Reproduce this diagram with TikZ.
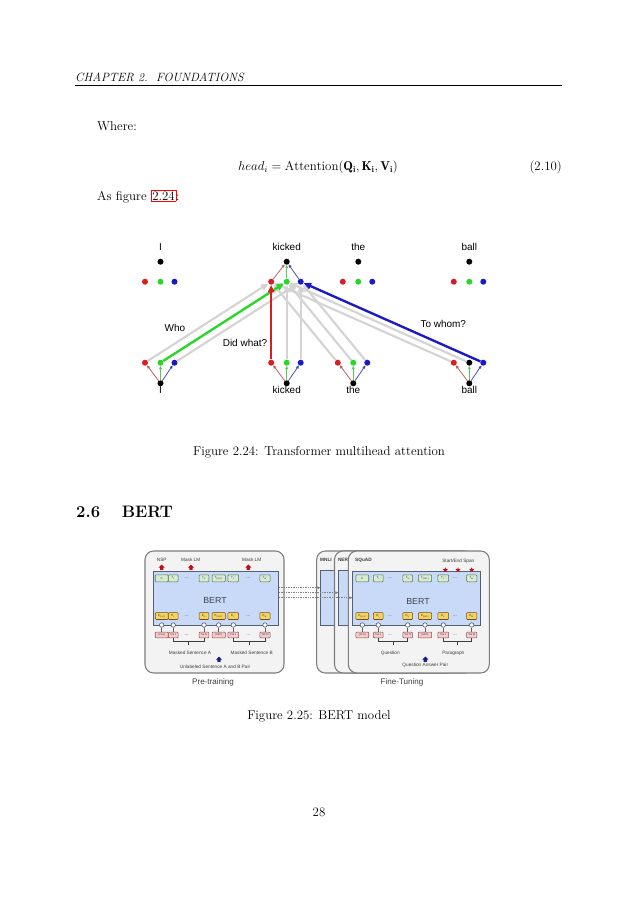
\documentclass[tikz,border=0pt]{standalone}
\usepackage{fontspec}
\newfontfamily\arialf{Liberation Sans}
\usetikzlibrary{arrows.meta,shapes.geometric,calc}
\definecolor{ared}{RGB}{215,30,35}
\definecolor{agreen}{RGB}{40,215,40}
\definecolor{ablue}{RGB}{25,25,200}
\definecolor{agray}{RGB}{212,212,212}
\definecolor{sred}{RGB}{190,90,90}
\definecolor{sgreen}{RGB}{90,200,90}
\definecolor{sblue}{RGB}{70,70,170}
\definecolor{bblue}{RGB}{201,218,248}
\definecolor{bedge}{RGB}{85,95,115}
\definecolor{bgreen}{RGB}{217,234,211}
\definecolor{byellow}{RGB}{244,212,92}
\definecolor{bpink}{RGB}{244,204,204}
\definecolor{bpanel}{RGB}{243,243,243}
\definecolor{bframe}{RGB}{125,125,125}
\definecolor{btext}{RGB}{60,60,60}
\definecolor{bred}{RGB}{200,10,20}
\definecolor{bnavy}{RGB}{20,30,140}
\setlength{\fboxsep}{0.8pt}
\setlength{\fboxrule}{0.6pt}
\newcommand\sbx[1]{\textsubscript{#1}}
\tikzset{
  txt/.style={inner sep=0, font=\fontsize{12}{14}\selectfont},
  dotn/.style={circle, inner sep=0, minimum size=5.6pt},
  wlab/.style={inner sep=0, font=\arialf\fontsize{9.3}{10}\selectfont},
  sarr/.style={line width=0.7pt, -{Triangle[length=3pt,width=2.6pt]}},
  garr/.style={agray, line width=2pt, -{Triangle[length=7pt,width=6pt]}},
  harr/.style={line width=2.2pt, -{Triangle[length=7pt,width=6pt]}},
  panel/.style={draw=bframe, fill=bpanel, line width=1pt, rounded corners=8pt},
  bluebox/.style={draw=bedge, fill=bblue, line width=0.8pt},
  gbox/.style={draw=green!25!black!70, fill=bgreen, rounded corners=0.8pt, line width=0.5pt, inner sep=0, minimum height=6.5pt, font=\arialf\fontsize{2.8}{3}\selectfont, text=btext},
  ybox/.style={draw=brown!60!black, fill=byellow, rounded corners=0.8pt, line width=0.5pt, inner sep=0, minimum height=6.5pt, font=\arialf\fontsize{2.8}{3}\selectfont, text=btext},
  pbox/.style={draw=red!40!black!70, fill=bpink, rounded corners=0.8pt, line width=0.5pt, inner sep=0, minimum height=5.5pt, font=\arialf\fontsize{2.4}{3}\selectfont, text=btext},
  cdot/.style={circle, draw=bedge, fill=white, line width=0.6pt, inner sep=0, minimum size=4.2pt},
  thinl/.style={draw=bedge, line width=0.4pt},
  brk/.style={draw=btext, line width=0.5pt},
  blab/.style={inner sep=0, font=\arialf\fontsize{4.4}{5}\selectfont, text=btext},
  btitle/.style={inner sep=0, font=\arialf\fontsize{8.2}{9}\selectfont, text=bedge!70!black},
  plab/.style={inner sep=0, font=\arialf\fontsize{7.5}{8}\selectfont, text=btext},
  rstar/.style={star, star points=5, star point ratio=2.2, fill=bred, inner sep=0, minimum size=5pt},
  dotarr/.style={gray, densely dotted, line width=0.6pt, -{Triangle[length=3pt,width=2.5pt]}},
  uparr/.pic={\path[pic actions] (-1.6,2.4) -- (-1.6,0) -- (-3,0) -- (0,-3) -- (3,0) -- (1.6,0) -- (1.6,2.4) -- cycle;}
}
\newcommand\bertrows[9]{%
  \foreach \i/\x/\w/\t/\e/\k in {1/#2/12/{C}/{E\sbx{[CLS]}}/{[CLS]}, 2/#3/9/{T\sbx{1}}/{E\sbx{1}}/{Tok 1}, 3/#4/9/{T\sbx{N}}/{E\sbx{N}}/{Tok N}, 4/#5/12.3/{T\sbx{[SEP]}}/{E\sbx{[SEP]}}/{[SEP]}, 5/#6/10/{T\sbx{1}'}/{E\sbx{1}'}/{Tok 1}, 6/#7/9.5/{T\sbx{M}'}/{E\sbx{M}'}/{Tok M}}{
    \node[gbox, minimum width=\w pt] (#1t\i) at (\x,27.3) {\t};
    \node[ybox, minimum width=\w pt] (#1e\i) at (\x,65) {\e};
    \node[cdot] (#1c\i) at (\x,74) {};
    \node[pbox, minimum width=\w pt] (#1k\i) at (\x,84) {\k};
    \draw[thinl] (#1c\i) -- (#1k\i);
  }
  \foreach \j/\x in {a/#8, b/#9}{
    \node[blab] (#1dt\j) at (\x,27.3) {...};
    \node[blab] (#1de\j) at (\x,65) {...};
    \node[blab] (#1dk\j) at (\x,84) {...};
  }
  \draw[brk] (#1k2.south) -- ++(0,3.5) -| (#1k3.south);
  \draw[brk] ($(#1k2.south)!0.5!(#1k3.south)+(0,3.5)$) -- ++(0,3.5);
  \draw[brk] (#1k5.south) -- ++(0,3.5) -| (#1k6.south);
  \draw[brk] ($(#1k5.south)!0.5!(#1k6.south)+(0,3.5)$) -- ++(0,3.5);
}
\begin{document}
\begin{tikzpicture}[x=0.9325pt,y=-0.9325pt]
\useasboundingbox (0,0) rectangle (638,903);
\fill[white] (0,0) rectangle (638,903);

% ---- page text ----
\node[txt, anchor=base west, font=\fontsize{11.2}{13}\selectfont\itshape] (hdr) at (75,81.7) {CHAPTER 2.\ \ FOUNDATIONS};
\coordinate (rulel) at (75,85.3);
\coordinate (ruler) at (562,85.3);
\draw[line width=0.45pt] (rulel) -- (ruler);
\node[txt, anchor=base west] (where) at (97,130.8) {Where:};
\node[txt, anchor=base] (eq) at (318,170.7) {$head_i = \mathrm{Attention}(\mathbf{Q_i}, \mathbf{K_i}, \mathbf{V_i})$};
\node[txt, anchor=base east] (eqno) at (562,170.7) {(2.10)};
\node[txt, anchor=base west] (asfig) at (97,200) {As figure \fcolorbox{red}{white}{2.24}:};

% ---- attention figure ----
\foreach \n/\x/\w in {a/160.5/I, b/286.7/kicked, c/358.3/the, d/469.3/ball}{
  \node[wlab] (tw\n) at (\x,247) {\w};
  \node[dotn, fill=black] (tk\n) at (\x,261.7) {};
  \node[dotn, fill=ared] (tr\n) at (\x-15.5,281.7) {};
  \node[dotn, fill=agreen] (tg\n) at (\x,281.7) {};
  \node[dotn, fill=ablue] (tb\n) at (\x+14,281.7) {};
}
\foreach \n/\x/\w/\gc in {a/160.5/I/agreen, b/286.7/kicked/agreen, c/353.3/the/agreen, d/469.3/ball/black}{
  \node[wlab] (bw\n) at (\x,390.3) {\w};
  \node[dotn, fill=black] (bk\n) at (\x,383.3) {};
  \node[dotn, fill=ared] (br\n) at (\x-15.5,362.7) {};
  \node[dotn, fill=\gc] (bg\n) at (\x,362.7) {};
  \node[dotn, fill=ablue] (bb\n) at (\x+14,362.7) {};
  \draw[sarr, sred] (bk\n) -- (br\n);
  \draw[sarr, sgreen] (bk\n) -- (bg\n);
  \draw[sarr, sblue] (bk\n) -- (bb\n);
}
\draw[sarr, sred] (trb) -- (tkb);
\draw[sarr, sgreen] (tgb) -- (tkb);
\draw[sarr, sblue] (tbb) -- (tkb);
\foreach \s/\t in {bra/trb, bba/tbb, bgb/tgb, bbb/tbb, brc/trb, bgc/tgb, bbc/tbb, brd/trb, bgd/tgb}
  \draw[garr] (\s) -- (\t);
\draw[harr, agreen] (bga) -- (tgb);
\draw[harr, ared] (brb) -- (trb);
\draw[harr, ablue] (bbd) -- (tbb);
\node[wlab] (who) at (175,327.7) {Who};
\node[wlab] (didwhat) at (245,343.3) {Did what?};
\node[wlab] (towhom) at (443.3,324) {To whom?};

\node[txt, anchor=base] (cap1) at (319,455.7) {Figure 2.24: Transformer multihead attention};

% ---- section ----
\node[txt, anchor=base west, font=\fontsize{15.5}{18}\selectfont\bfseries] (secnum) at (76,517) {2.6};
\node[txt, anchor=base west, font=\fontsize{15.5}{18}\selectfont\bfseries] (sectitle) at (121.7,517) {BERT};

% ---- BERT figure: pre-training ----
\begin{scope}[shift={(145,551)}]
  \draw[panel] (0,0) rectangle (139,122);
  \draw[bluebox] (8,20) rectangle (133,74);
  \node[btitle] (ptitle) at (70,49) {BERT};
  \bertrows{p}{16.7}{28.3}{59}{73.7}{88.3}{120}{41.7}{103.3}
  \node[blab] (pnsp) at (16.7,9) {NSP};
  \node[blab] (pmlm1) at (45.7,9) {Mask LM};
  \node[blab] (pmlm2) at (106.7,9) {Mask LM};
  \pic[fill=bred] at (16.7,16.5) {uparr};
  \pic[fill=bred] at (46,16.5) {uparr};
  \pic[fill=bred] at (103.3,16.5) {uparr};
  \node[blab] (psa) at (45,102) {Masked Sentence A};
  \node[blab] (psb) at (106.7,102) {Masked Sentence B};
  \pic[fill=bnavy] at (74,108.5) {uparr};
  \node[blab] (ppair) at (70,115.7) {Unlabeled Sentence A and B Pair};
\end{scope}
\node[plab] (ptr) at (213,682) {Pre-training};

% ---- BERT figure: fine-tuning ----
\begin{scope}[shift={(316.7,551)}]
  \draw[panel] (0,0) rectangle (139,122);
  \draw[bluebox] (4,19) rectangle (131,74);
  \node[blab, anchor=west, font=\arialf\bfseries\fontsize{4.4}{5}\selectfont] (mnli) at (3.3,9) {MNLI};
\end{scope}
\begin{scope}[shift={(334.5,551)}]
  \draw[panel] (0,0) rectangle (139,122);
  \draw[bluebox] (4,19) rectangle (131,74);
  \node[blab, anchor=west, font=\arialf\bfseries\fontsize{4.4}{5}\selectfont] (ner) at (3.3,9) {NER};
\end{scope}
\begin{scope}[shift={(348.3,551)}]
  \draw[panel] (0,0) rectangle (141,122);
  \draw[bluebox] (4.4,20) rectangle (131.7,74);
  \node[btitle] (ftitle) at (69.7,50.7) {BERT};
  \bertrows{f}{14}{30}{59.4}{76.7}{95}{123.4}{41.7}{106.7}
  \node[blab, anchor=west, font=\arialf\bfseries\fontsize{4.4}{5}\selectfont] (squad) at (6.7,9) {SQuAD};
  \node[blab] (fspan) at (110,10.7) {Start/End Span};
  \node[rstar] (fs1) at (97,19) {};
  \node[rstar] (fs2) at (109.7,19) {};
  \node[rstar] (fs3) at (123.4,19) {};
  \node[blab] (fq) at (42,102) {Question};
  \node[blab] (fpar) at (105,102) {Paragraph};
  \pic[fill=bnavy] at (77,108.5) {uparr};
  \node[blab] (fpair) at (77,114.7) {Question Answer Pair};
\end{scope}
\node[plab] (ftn) at (402,682) {Fine-Tuning};

\coordinate (src1) at (279,587.7);
\coordinate (src2) at (279,592.7);
\coordinate (src3) at (279,597.7);
\coordinate (dst1) at (320.5,587.7);
\coordinate (dst2) at (338.5,592.7);
\coordinate (dst3) at (352.5,597.7);
\draw[dotarr] (src1) -- (dst1);
\draw[dotarr] (src2) -- (dst2);
\draw[dotarr] (src3) -- (dst3);

\node[txt, anchor=base] (cap2) at (319,719.5) {Figure 2.25: BERT model};
\node[txt, anchor=base] (pg) at (319,816.7) {28};
\end{tikzpicture}
\end{document}
